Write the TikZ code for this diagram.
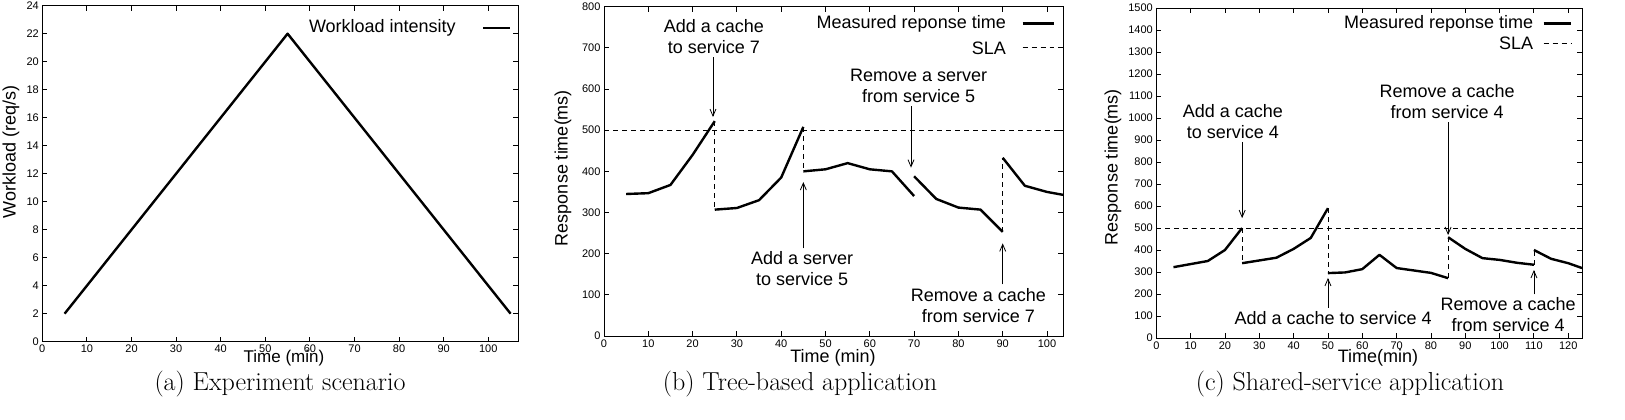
\documentclass[tikz,border=0pt]{standalone}
\usepackage{fontspec}
\newfontfamily\plotsans{Liberation Sans}
\usetikzlibrary{arrows.meta}
\begin{document}
\begin{tikzpicture}[x=1pt,y=-1pt,
  frame/.style={line width=0.9pt},
  tickl/.style={font=\fontsize{11}{11}\plotsans},
  lbl/.style={font=\fontsize{18}{21}\plotsans,align=center},
  curve/.style={line width=2.4pt,line join=round},
  sla/.style={line width=0.8pt,dash pattern=on 5pt off 4pt},
  ann/.style={line width=0.8pt,-{Straight Barb[length=7pt,width=6pt]}},
  captxt/.style={font=\fontsize{26}{28}\selectfont}]
\useasboundingbox (0,0) rectangle (1625,420);
% ---------------- panel a
\begin{scope}[shift={(42.3,341.7)},x=4.46pt,y=14pt]
 \draw[frame] (0,0) rectangle (106.7,24);
 \foreach \t in {0,10,...,100}{\draw[frame] (\t,0)--(\t,0.35) (\t,24)--(\t,23.65);
   \node[tickl,below] (ax\t) at (\t,0) {\t};}
 \foreach \v in {0,2,...,24}{\draw[frame] (0,\v)--(1.1,\v) (106.7,\v)--(105.6,\v);
   \node[tickl,left] (ay\v) at (0,\v) {\v};}
 \draw[curve] (5,2)--(55,22)--(105,2);
 \node[lbl,anchor=east] (alg) at (93.5,22.4) {Workload intensity};
 \draw[curve] (98.9,22.4)--(104.9,22.4);
\end{scope}
\node[lbl,font=\fontsize{18}{18}\plotsans,rotate=90] (ayl) at (11,152) {Workload (req/s)};
\node[lbl,font=\fontsize{17}{17}\plotsans] (axl) at (284,358) {Time (min)};
\node[captxt] (capa) at (280,384) {(a) Experiment scenario};
% ---------------- panel b
\begin{scope}[shift={(604,336)},x=4.43pt,y=0.4116pt]
 \draw[frame] (0,0) rectangle (103.6,800);
 \foreach \t in {0,10,...,100}{\draw[frame] (\t,0)--(\t,12) (\t,800)--(\t,788);
   \node[tickl,below] (bx\t) at (\t,0) {\t};}
 \foreach \v in {0,100,...,800}{\draw[frame] (0,\v)--(1.1,\v) (103.6,\v)--(102.5,\v);
   \node[tickl,left] (by\v) at (0,\v) {\v};}
 \draw[sla] (0,500)--(103.6,500);
 \draw[curve] (5,345)--(10,347)--(15,367)--(20,440)--(25,522);
 \draw[curve] (25,307)--(30,311)--(35,330)--(40,385)--(45,508);
 \draw[curve] (45,400)--(50,405)--(55,420)--(60,405)--(65,400)--(70,340);
 \draw[curve] (70,388)--(75,333)--(80,312)--(85,307)--(90,253);
 \draw[curve] (90,433)--(95,365)--(100,350)--(103.6,343);
 \draw[sla] (25,522)--(25,307) (45,508)--(45,400) (90,253)--(90,433);
 \node[lbl,anchor=east] (blg1) at (91.5,759) {Measured reponse time};
 \draw[curve] (94.5,759)--(101.5,759);
 \node[lbl,anchor=east] (blg2) at (91.5,700) {SLA};
 \draw[sla] (94.5,700)--(101.5,700);
 \node[lbl] (b1) at (24.8,727) {Add a cache\\to service 7};
 \coordinate (b1t) at (24.6,532);
 \draw[ann] (b1.south -| b1t) -- (b1t);
 \node[lbl] (b2) at (44.7,163) {Add a server\\to service 5};
 \coordinate (b2t) at (45,374);
 \draw[ann] (b2.north -| b2t) -- (b2t);
 \node[lbl] (b3) at (71,608) {Remove a server\\from service 5};
 \coordinate (b3t) at (69.3,409);
 \draw[ann] (b3.south -| b3t) -- (b3t);
 \node[lbl] (b4) at (84.5,75) {Remove a cache\\from service 7};
 \coordinate (b4t) at (90,225);
 \draw[ann] (b4.north -| b4t) -- (b4t);
\end{scope}
\node[lbl,rotate=90] (byl) at (563,168) {Response time(ms)};
\node[lbl] (bxl) at (833,358) {Time (min)};
\node[captxt] (capb) at (800,384) {(b) Tree-based application};
% ---------------- panel c
\begin{scope}[shift={(1156.3,338)},x=3.433pt,y=0.22pt]
 \draw[frame] (0,0) rectangle (124,1500);
 \foreach \t in {0,10,...,120}{\draw[frame] (\t,0)--(\t,22) (\t,1500)--(\t,1478);
   \node[tickl,below] (cx\t) at (\t,0) {\t};}
 \foreach \v in {0,100,...,1500}{\draw[frame] (0,\v)--(1.4,\v) (124,\v)--(122.6,\v);
   \node[tickl,left] (cy\v) at (0,\v) {\v};}
 \draw[sla] (0,500)--(124,500);
 \draw[curve] (5,322)--(15,350)--(20,400)--(25,500);
 \draw[curve] (25,340)--(35,365)--(40,405)--(45,455)--(50,590);
 \draw[curve] (50,295)--(55,298)--(60,313)--(65,378)--(70,318)--(80,296)--(85,272);
 \draw[curve] (85,458)--(90,405)--(95,363)--(100,355)--(105,342)--(110,333);
 \draw[curve] (110,400)--(115,360)--(120,340)--(124,318);
 \draw[sla] (25,500)--(25,340) (50,590)--(50,295) (85,272)--(85,458) (110,333)--(110,400);
 \node[lbl,anchor=east] (clg1) at (110.8,1430) {Measured reponse time};
 \draw[curve] (112.8,1430)--(120.8,1430);
 \node[lbl,anchor=east] (clg2) at (110.8,1340) {SLA};
 \draw[sla] (112.8,1340)--(120.8,1340);
 \node[lbl] (c1) at (22.3,985) {Add a cache\\to service 4};
 \coordinate (c1t) at (25,545);
 \draw[ann] (c1.south -| c1t) -- (c1t);
 \node[lbl] (c2) at (84.7,1075) {Remove a cache\\from service 4};
 \coordinate (c2t) at (85,468);
 \draw[ann] (c2.south -| c2t) -- (c2t);
 \node[lbl] (c3) at (51.5,91) {Add a cache to service 4};
 \coordinate (c3t) at (50,273);
 \draw[ann] (c3.north -| c3t) -- (c3t);
 \node[lbl] (c4) at (102.5,105) {Remove a cache\\from service 4};
 \coordinate (c4t) at (110,309);
 \draw[ann] (c4.north -| c4t) -- (c4t);
\end{scope}
\node[lbl,rotate=90] (cyl) at (1113,167) {Response time(ms)};
\node[lbl] (cxl) at (1378,358) {Time(min)};
\node[captxt] (capc) at (1350,384) {(c) Shared-service application};
\end{tikzpicture}
\end{document}
